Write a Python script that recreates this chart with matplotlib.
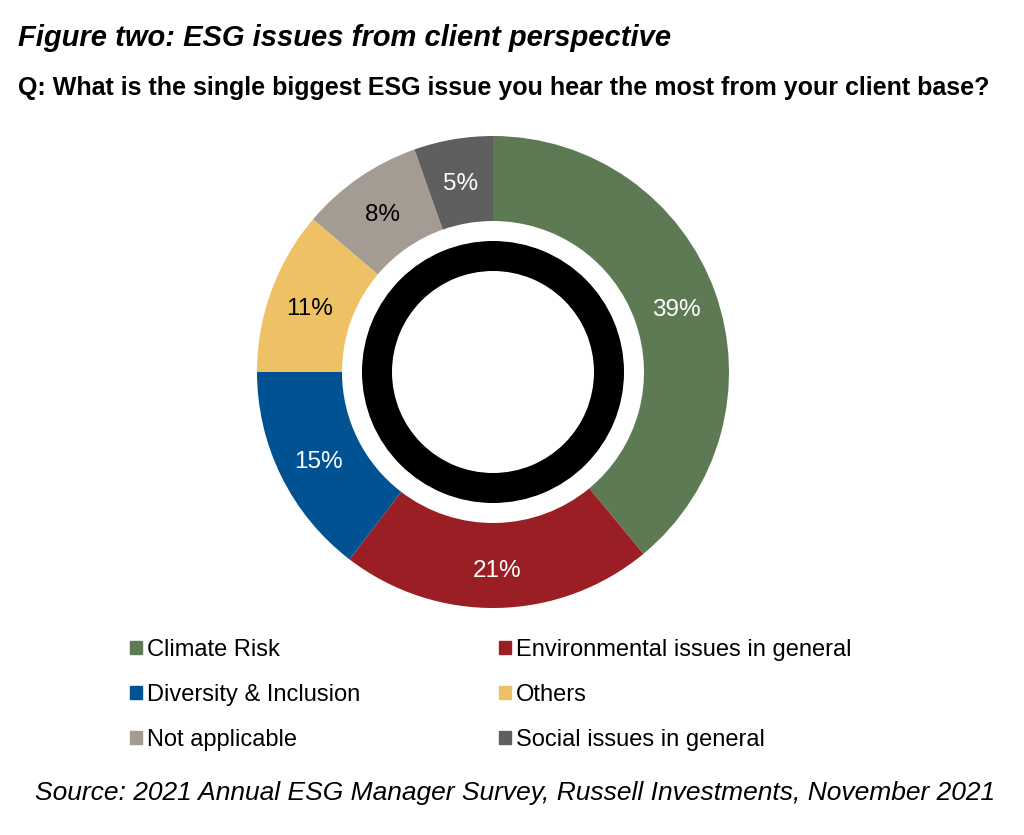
import matplotlib.pyplot as plt
from matplotlib.patches import Patch

plt.rcParams['font.family'] = ['Liberation Sans', 'DejaVu Sans']

# data (shares; labels show them rounded)
issues = ['Climate Risk', 'Environmental issues in general', 'Diversity & Inclusion',
          'Others', 'Not applicable', 'Social issues in general']
shares = [39.0, 21.4, 14.6, 11.2, 8.4, 5.4]
colors = ['#5E7A55', '#9A1F24', '#005293', '#EEC264', '#A49B93', '#5F5F5F']
label_colors = ['white', 'white', 'white', 'black', 'black', 'white']

fig = plt.figure(figsize=(10.24, 8.35), dpi=100)
ax = fig.add_axes([0, 0, 1, 1])

cx, cy = 493, 835 - 372
R = 236
wedges, texts, autotexts = ax.pie(shares, colors=colors, radius=R, center=(cx, cy),
                                  startangle=90, counterclock=False,
                                  wedgeprops=dict(width=R - 151, linewidth=0),
                                  autopct='%.0f%%', pctdistance=195 / R,
                                  textprops=dict(fontsize=17.5), frame=True)
for t, c in zip(autotexts, label_colors):
    t.set_color(c)
    x, y = t.get_position()
    t.set_position((x, y - 4))  # labels sit a bit lower in the original

# black ring in the middle
ax.pie([1], colors=['black'], radius=131, center=(cx, cy),
       wedgeprops=dict(width=30, linewidth=0), frame=True)
ax.set_xlim(0, 1024)
ax.set_ylim(0, 835)
ax.set_aspect('equal')
ax.axis('off')

fig.text(18, 835 - 38, 'Figure two: ESG issues from client perspective', transform=None,
         fontsize=21, fontweight='bold', fontstyle='italic', va='center', ha='left')
fig.text(18, 835 - 88, 'Q: What is the single biggest ESG issue you hear the most from your client base?',
         transform=None, fontsize=18, fontweight='bold', va='center', ha='left')
fig.text(995, 835 - 793, 'Source: 2021 Annual ESG Manager Survey, Russell Investments, November 2021',
         transform=None, fontsize=19, fontstyle='italic', va='center', ha='right')

order = [0, 2, 4, 1, 3, 5]
handles = [Patch(color=colors[i], label=issues[i]) for i in order]
ax.legend(handles=handles, ncol=2, loc='upper left', bbox_to_anchor=(130 / 1024, 1 - 639 / 835),
          bbox_transform=fig.transFigure, frameon=False, fontsize=17,
          handlelength=0.5, handleheight=0.5, handletextpad=0.2,
          columnspacing=5.9, labelspacing=0.97, borderpad=0, borderaxespad=0)

fig.savefig('out.png', dpi=100)
